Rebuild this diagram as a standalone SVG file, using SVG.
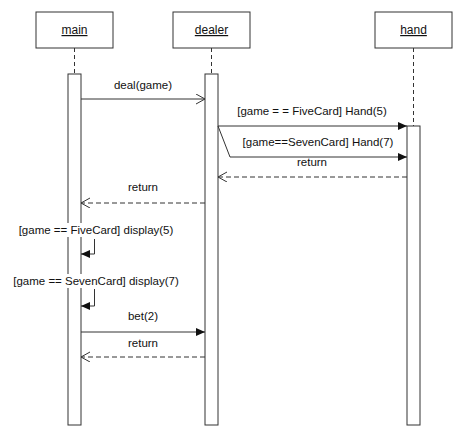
<svg xmlns="http://www.w3.org/2000/svg" width="474" height="440" viewBox="0 0 474 440">
<style>
.box{fill:#fff;stroke:#333;stroke-width:1}
.act{fill:#fff;stroke:#333;stroke-width:1}
.life{stroke:#333;stroke-width:1;stroke-dasharray:4 3;fill:none}
.msg{stroke:#333;stroke-width:1;fill:none}
.ret{stroke:#333;stroke-width:1;stroke-dasharray:5 3;fill:none}
.bg{fill:#fff}
text{font-family:"Liberation Sans",Arial,sans-serif;font-size:11.5px;fill:#111;text-anchor:middle}
.name{text-decoration:underline;font-size:12px}
</style>
<defs>
<marker id="filled" markerWidth="10" markerHeight="10" refX="9" refY="4" orient="auto" markerUnits="userSpaceOnUse">
<path d="M0,0 L9,4 L0,8 Z" fill="#111"/>
</marker>
<marker id="open" markerWidth="12" markerHeight="12" refX="9" refY="5" orient="auto" markerUnits="userSpaceOnUse">
<path d="M0,0 L9,5 L0,10" fill="none" stroke="#333" stroke-width="1"/>
</marker>
</defs>
<rect width="474" height="440" fill="#fff"/>
<g id="main">
<rect class="box" x="36" y="12" width="77" height="36"/>
<text class="name" x="74.5" y="34">main</text>
<line class="life" x1="74.5" y1="48" x2="74.5" y2="74"/>
<rect class="act" x="68" y="74" width="13" height="351"/>
</g>
<g id="dealer">
<rect class="box" x="173" y="12" width="77" height="36"/>
<text class="name" x="211.5" y="34">dealer</text>
<line class="life" x1="211.5" y1="48" x2="211.5" y2="74"/>
<rect class="act" x="205" y="74" width="13" height="351"/>
</g>
<g id="hand">
<rect class="box" x="375" y="12" width="77" height="36"/>
<text class="name" x="413.5" y="34">hand</text>
<line class="life" x1="413.5" y1="48" x2="413.5" y2="126"/>
<rect class="act" x="407" y="126" width="13" height="299"/>
</g>
<g id="connectors">
<line class="msg" x1="81" y1="99" x2="205" y2="99" marker-end="url(#open)"/>
<text x="143" y="89">deal(game)</text>
<line class="msg" x1="218" y1="126" x2="407" y2="126" marker-end="url(#filled)"/>
<text x="312" y="115">[game = = FiveCard] Hand(5)</text>
<polyline class="msg" points="218,126 230,157 407,157" marker-end="url(#filled)"/>
<text x="318" y="146">[game==SevenCard] Hand(7)</text>
<line class="ret" x1="407" y1="177" x2="218" y2="177" marker-end="url(#open)"/>
<text x="312" y="166">return</text>
<line class="ret" x1="205" y1="203" x2="81" y2="203" marker-end="url(#open)"/>
<text x="143" y="191">return</text>
<rect class="bg" x="17" y="223" width="158" height="14"/>
<text x="96" y="234">[game == FiveCard] display(5)</text>
<polyline class="msg" points="94.5,239 94.5,254 81,254" marker-end="url(#filled)"/>
<rect class="bg" x="12" y="274" width="168" height="14"/>
<text x="96" y="285">[game == SevenCard] display(7)</text>
<polyline class="msg" points="94.5,289 94.5,306 81,306" marker-end="url(#filled)"/>
<line class="msg" x1="81" y1="332" x2="205" y2="332" marker-end="url(#filled)"/>
<text x="143" y="320">bet(2)</text>
<line class="ret" x1="205" y1="357" x2="81" y2="357" marker-end="url(#open)"/>
<text x="143" y="347">return</text>
</g>
</svg>
